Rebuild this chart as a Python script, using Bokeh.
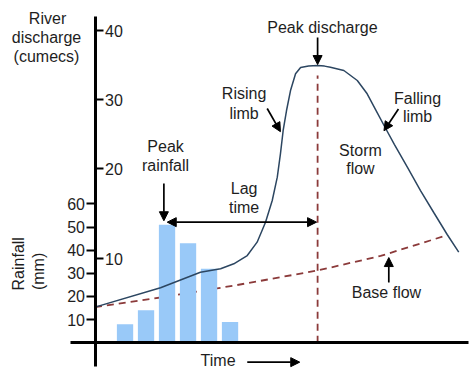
import math
from bokeh.plotting import figure
from bokeh.models import Range1d, LinearAxis, FixedTicker, Label, Arrow, NormalHead
from bokeh.embed import file_html
from bokeh.resources import INLINE

# ---------------- data ----------------
rain_time = [1.43, 2.43, 3.43, 4.43, 5.43, 6.43]
rain_mm = [8, 14, 51, 43, 32, 9]
rain_ticks = [10, 20, 30, 40, 50, 60]

flow_time = [0, 3.12, 5.02, 5.98, 6.61, 7.25, 7.72, 8.12, 8.44, 8.68, 8.83, 8.96,
             9.12, 9.31, 9.55, 9.79, 10.17, 10.6, 10.93, 11.21, 11.85, 12.49,
             12.96, 13.36, 13.79, 14.26, 14.88, 15.5, 16.13, 16.77, 17.32]
flow_q = [0, 2.8, 5.05, 5.54, 6.26, 7.46, 9.39, 12.28, 15.42, 18.79, 22.17, 25.54,
          28.43, 31.32, 33.74, 34.65, 34.87, 34.94, 34.85, 34.69, 34.22, 32.77,
          30.85, 28.57, 26.12, 23.51, 20.19, 16.86, 13.68, 10.5, 7.94]

base_time = [0, 3.12, 6.6, 10.6, 13.6, 16.77]
base_q = [0, 1.39, 3.1, 5.29, 7.4, 10.4]

peak_time = 10.6
peak_q = 34.94

# discharge axis labels, at the places where the original drawing puts them
discharge_tick_at = [7, 20, 30, 40]
discharge_tick_labels = ["10", "20", "30", "40"]

# ---------------- styling ----------------
FONT = "Liberation Sans"
TXT = "#1e1e1e"
BLUE = "#99c9f8"
NAVY = "#2c4661"
RED = "#8b3a3a"

# whole canvas is the plotting frame; axes are drawn inside it
X0, X1 = -4.5, 18.071
R0, R1 = -15.90, 147.88
D0, D1 = -10.47, 44.34
TIME_AXIS_SPAN = (-1.167, 17.79)
RAIN_AXIS_SPAN = (-10.29, 140.97)


def to_rain(q):
    return R0 + (q - D0) * (R1 - R0) / (D1 - D0)


p = figure(width=474, height=379, x_range=Range1d(X0, X1), y_range=Range1d(R0, R1),
           x_axis_type=None, y_axis_type=None, toolbar_location=None,
           output_backend="svg", min_border=0, min_border_left=0,
           min_border_right=0, min_border_top=0, min_border_bottom=0,
           outline_line_color=None)
p.extra_y_ranges = {"discharge": Range1d(D0, D1)}

p.line(base_time, base_q, y_range_name="discharge", line_color=RED,
       line_width=1.8, line_dash="7 5")
p.vbar(x=rain_time, top=rain_mm, bottom=0, width=0.776, fill_color=BLUE,
       line_color=None)
p.line(flow_time, flow_q, y_range_name="discharge", line_color=NAVY, line_width=1.5)
p.segment(x0=[peak_time], y0=[0], x1=[peak_time], y1=[to_rain(peak_q - 1.45)],
          line_color=RED, line_width=1.8, line_dash="7 5")

time_axis = LinearAxis(fixed_location=0, bounds=TIME_AXIS_SPAN,
                       ticker=FixedTicker(ticks=[]), axis_line_width=3,
                       axis_line_color="black", major_tick_line_color=None,
                       minor_tick_line_color=None, major_label_text_font_size="0px")
p.add_layout(time_axis, "below")

rain_axis = LinearAxis(ticker=FixedTicker(ticks=rain_ticks), fixed_location=0,
                       bounds=RAIN_AXIS_SPAN,
                       axis_line_width=3, axis_line_color="black",
                       major_tick_out=9, major_tick_in=0, major_tick_line_width=2,
                       minor_tick_line_color=None, major_label_standoff=1,
                       major_label_text_font=FONT, major_label_text_font_size="16px",
                       major_label_text_color=TXT)
p.add_layout(rain_axis, "left")

dis_axis = LinearAxis(y_range_name="discharge",
                      ticker=FixedTicker(ticks=discharge_tick_at),
                      major_label_overrides=dict(zip(discharge_tick_at, discharge_tick_labels)),
                      fixed_location=0, axis_line_color=None,
                      major_tick_out=8, major_tick_in=0, major_tick_line_width=2,
                      minor_tick_line_color=None, major_label_standoff=2,
                      major_label_text_font=FONT, major_label_text_font_size="16px",
                      major_label_text_color=TXT)
p.add_layout(dis_axis, "right")


def label(x, y, text, angle=0):
    p.add_layout(Label(x=x, y=y, text=text, angle=angle, text_align="center",
                       text_baseline="middle", text_font=FONT,
                       text_font_size="16px", text_color=TXT))


def arrow(x0, y0, x1, y1, both=False):
    head = dict(size=9, fill_color="black", line_color="black", line_width=1)
    p.add_layout(Arrow(x_start=x0, y_start=y0, x_end=x1, y_end=y1,
                       end=NormalHead(**head),
                       start=NormalHead(**head) if both else None,
                       line_color="black", line_width=1.7))


label(-2.26, 140.1, "River")
label(-2.31, 132.1, "discharge")
label(-2.31, 123.7, "(cumecs)")
label(-3.62, 34.1, "Rainfall", angle=math.pi / 2)
label(-2.69, 30.8, "(mm)", angle=math.pi / 2)

label(10.83, 136.4, "Peak discharge")
arrow(10.6, 131.9, 10.6, 120.2)

label(7.1, 107.6, "Rising")
label(7.1, 98.9, "limb")
arrow(8.2, 101.2, 8.83, 91.2)

label(15.36, 105.4, "Falling")
label(15.36, 97.8, "limb")
arrow(14.45, 101.0, 13.76, 91.6)

label(12.64, 83.1, "Storm")
label(12.64, 75.3, "flow")

label(3.36, 84.6, "Peak")
label(3.36, 76.4, "rainfall")
arrow(3.28, 68.8, 3.28, 52.7)

label(7.1, 66.5, "Lag")
label(7.1, 58.6, "time")
arrow(3.44, 52.1, 10.55, 52.1, both=True)

label(13.88, 21.7, "Base flow")
arrow(13.99, 26.0, 13.99, 36.8)

label(5.86, -7.7, "Time")
arrow(7.25, -8.4, 9.75, -8.4)

open("out.html", "w").write(file_html(p, INLINE))
